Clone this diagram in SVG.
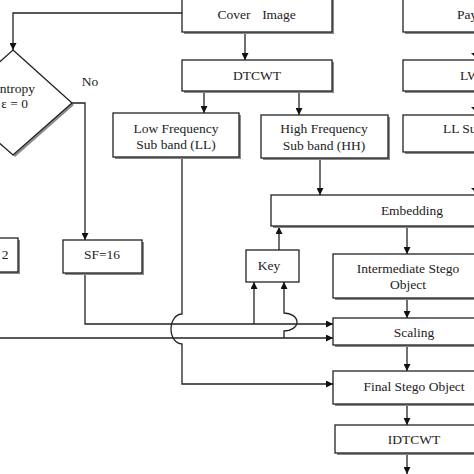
<svg xmlns="http://www.w3.org/2000/svg" width="474" height="474" viewBox="0 0 474 474">
<style>
.b{fill:#fff;stroke:#222;stroke-width:1.3}
.s{fill:#8a8a8a;stroke:none}
.c{fill:none;stroke:#222;stroke-width:1.3}
text{font-family:"Liberation Serif","Times New Roman",serif;font-size:13.5px;fill:#222;text-anchor:middle}
</style>
<defs>
<marker id="ah" viewBox="0 0 10 10" refX="10" refY="5" markerWidth="7" markerHeight="7" markerUnits="userSpaceOnUse" orient="auto">
<path d="M0,0 L10,5 L0,10 z" fill="#111"/>
</marker>
</defs>
<rect x="0" y="0" width="474" height="474" fill="#fff"/>

<g id="connectors">
<path class="c" d="M182,13 H13 V50" marker-end="url(#ah)"/>
<path class="c" d="M72,103 H85 V240" marker-end="url(#ah)"/>
<path class="c" d="M245,32 V60" marker-end="url(#ah)"/>
<path class="c" d="M204,91 V113" marker-end="url(#ah)"/>
<path class="c" d="M299,91 V115" marker-end="url(#ah)"/>
<path class="c" d="M320,158 V195" marker-end="url(#ah)"/>
<path class="c" d="M407,227 V254" marker-end="url(#ah)"/>
<path class="c" d="M407,298 V318" marker-end="url(#ah)"/>
<path class="c" d="M407,345 V371" marker-end="url(#ah)"/>
<path class="c" d="M407,404 V425" marker-end="url(#ah)"/>
<path class="c" d="M407,453 V474" marker-end="url(#ah)"/>
<path class="c" d="M85,273 V324 H333" marker-end="url(#ah)"/>
<path class="c" d="M0,338 H333" marker-end="url(#ah)"/>
<path class="c" d="M182,157 V314 A11,15 0 0 0 182,344 V384 H333" marker-end="url(#ah)"/>
<path class="c" d="M279,250 V227" marker-end="url(#ah)"/>
<path class="c" d="M254,324 V282" marker-end="url(#ah)"/>
<path class="c" d="M284,338 V331 A13,9 0 0 0 284,313 V282" marker-end="url(#ah)"/>
<polygon points="471,53 485,53 478,60" fill="#111"/>
<polygon points="471,107 485,107 478,114" fill="#111"/>
<polygon points="471,188 485,188 478,195" fill="#111"/>
</g>

<g id="cover">
<rect class="s" x="184" y="-10" width="150" height="44"/>
<rect class="b" x="182" y="-12" width="150" height="44"/>
<text x="234" y="19">Cover</text><text x="279" y="19">Image</text>
</g>
<g id="dtcwt">
<rect class="s" x="184" y="62" width="150" height="31"/>
<rect class="b" x="182" y="60" width="150" height="31"/>
<text x="257" y="80">DTCWT</text>
</g>
<g id="ll">
<rect class="s" x="115" y="115" width="126" height="44"/>
<rect class="b" x="113" y="113" width="126" height="44"/>
<text x="176" y="133">Low Frequency</text>
<text x="176" y="149">Sub band (LL)</text>
</g>
<g id="hh">
<rect class="s" x="263" y="117" width="127" height="43"/>
<rect class="b" x="261" y="115" width="127" height="43"/>
<text x="324" y="133">High Frequency</text>
<text x="324" y="150">Sub band (HH)</text>
</g>
<g id="payload">
<rect class="s" x="405" y="-10" width="90" height="44"/>
<rect class="b" x="403" y="-12" width="90" height="44"/>
<text x="457" y="19" style="text-anchor:start">Pay</text>
</g>
<g id="lw">
<rect class="s" x="405" y="62" width="90" height="31"/>
<rect class="b" x="403" y="60" width="90" height="31"/>
<text x="460" y="80" style="text-anchor:start">LW</text>
</g>
<g id="llsub">
<rect class="s" x="405" y="117" width="90" height="37"/>
<rect class="b" x="403" y="115" width="90" height="37"/>
<text x="443" y="133" style="text-anchor:start">LL Su</text>
</g>
<g id="decision">
<polygon class="s" points="15,52 74,105 15,157 -44,105"/>
<polygon class="b" points="13,50 72,103 13,155 -46,103"/>
<text x="35" y="93" style="text-anchor:end">ntropy</text>
<text x="28" y="108" style="text-anchor:end">ε = 0</text>
<text x="90" y="86">No</text>
</g>
<g id="sf32">
<rect class="s" x="-40" y="240" width="60" height="34"/>
<rect class="b" x="-42" y="238" width="60" height="34"/>
<text x="5" y="259">2</text>
</g>
<g id="sf16">
<rect class="s" x="65" y="242" width="79" height="33"/>
<rect class="b" x="63" y="240" width="79" height="33"/>
<text x="102" y="259">SF=16</text>
</g>
<g id="embedding">
<rect class="s" x="273" y="197" width="282" height="31"/>
<rect class="b" x="271" y="195" width="282" height="31"/>
<text x="412" y="215">Embedding</text>
</g>
<g id="key">
<rect class="b" x="246" y="250" width="53" height="32"/>
<text x="269" y="270">Key</text>
</g>
<g id="iso">
<rect class="s" x="335" y="256" width="150" height="44"/>
<rect class="b" x="333" y="254" width="150" height="44"/>
<text x="408" y="273">Intermediate Stego</text>
<text x="408" y="289">Object</text>
</g>
<g id="scaling">
<rect class="s" x="335" y="320" width="160" height="27"/>
<rect class="b" x="333" y="318" width="160" height="27"/>
<text x="414" y="337">Scaling</text>
</g>
<g id="final">
<rect class="s" x="335" y="373" width="160" height="33"/>
<rect class="b" x="333" y="371" width="160" height="33"/>
<text x="414" y="391">Final Stego Object</text>
</g>
<g id="idtcwt">
<rect class="s" x="337" y="427" width="160" height="28"/>
<rect class="b" x="335" y="425" width="160" height="28"/>
<text x="414" y="444">IDTCWT</text>
</g>
</svg>
